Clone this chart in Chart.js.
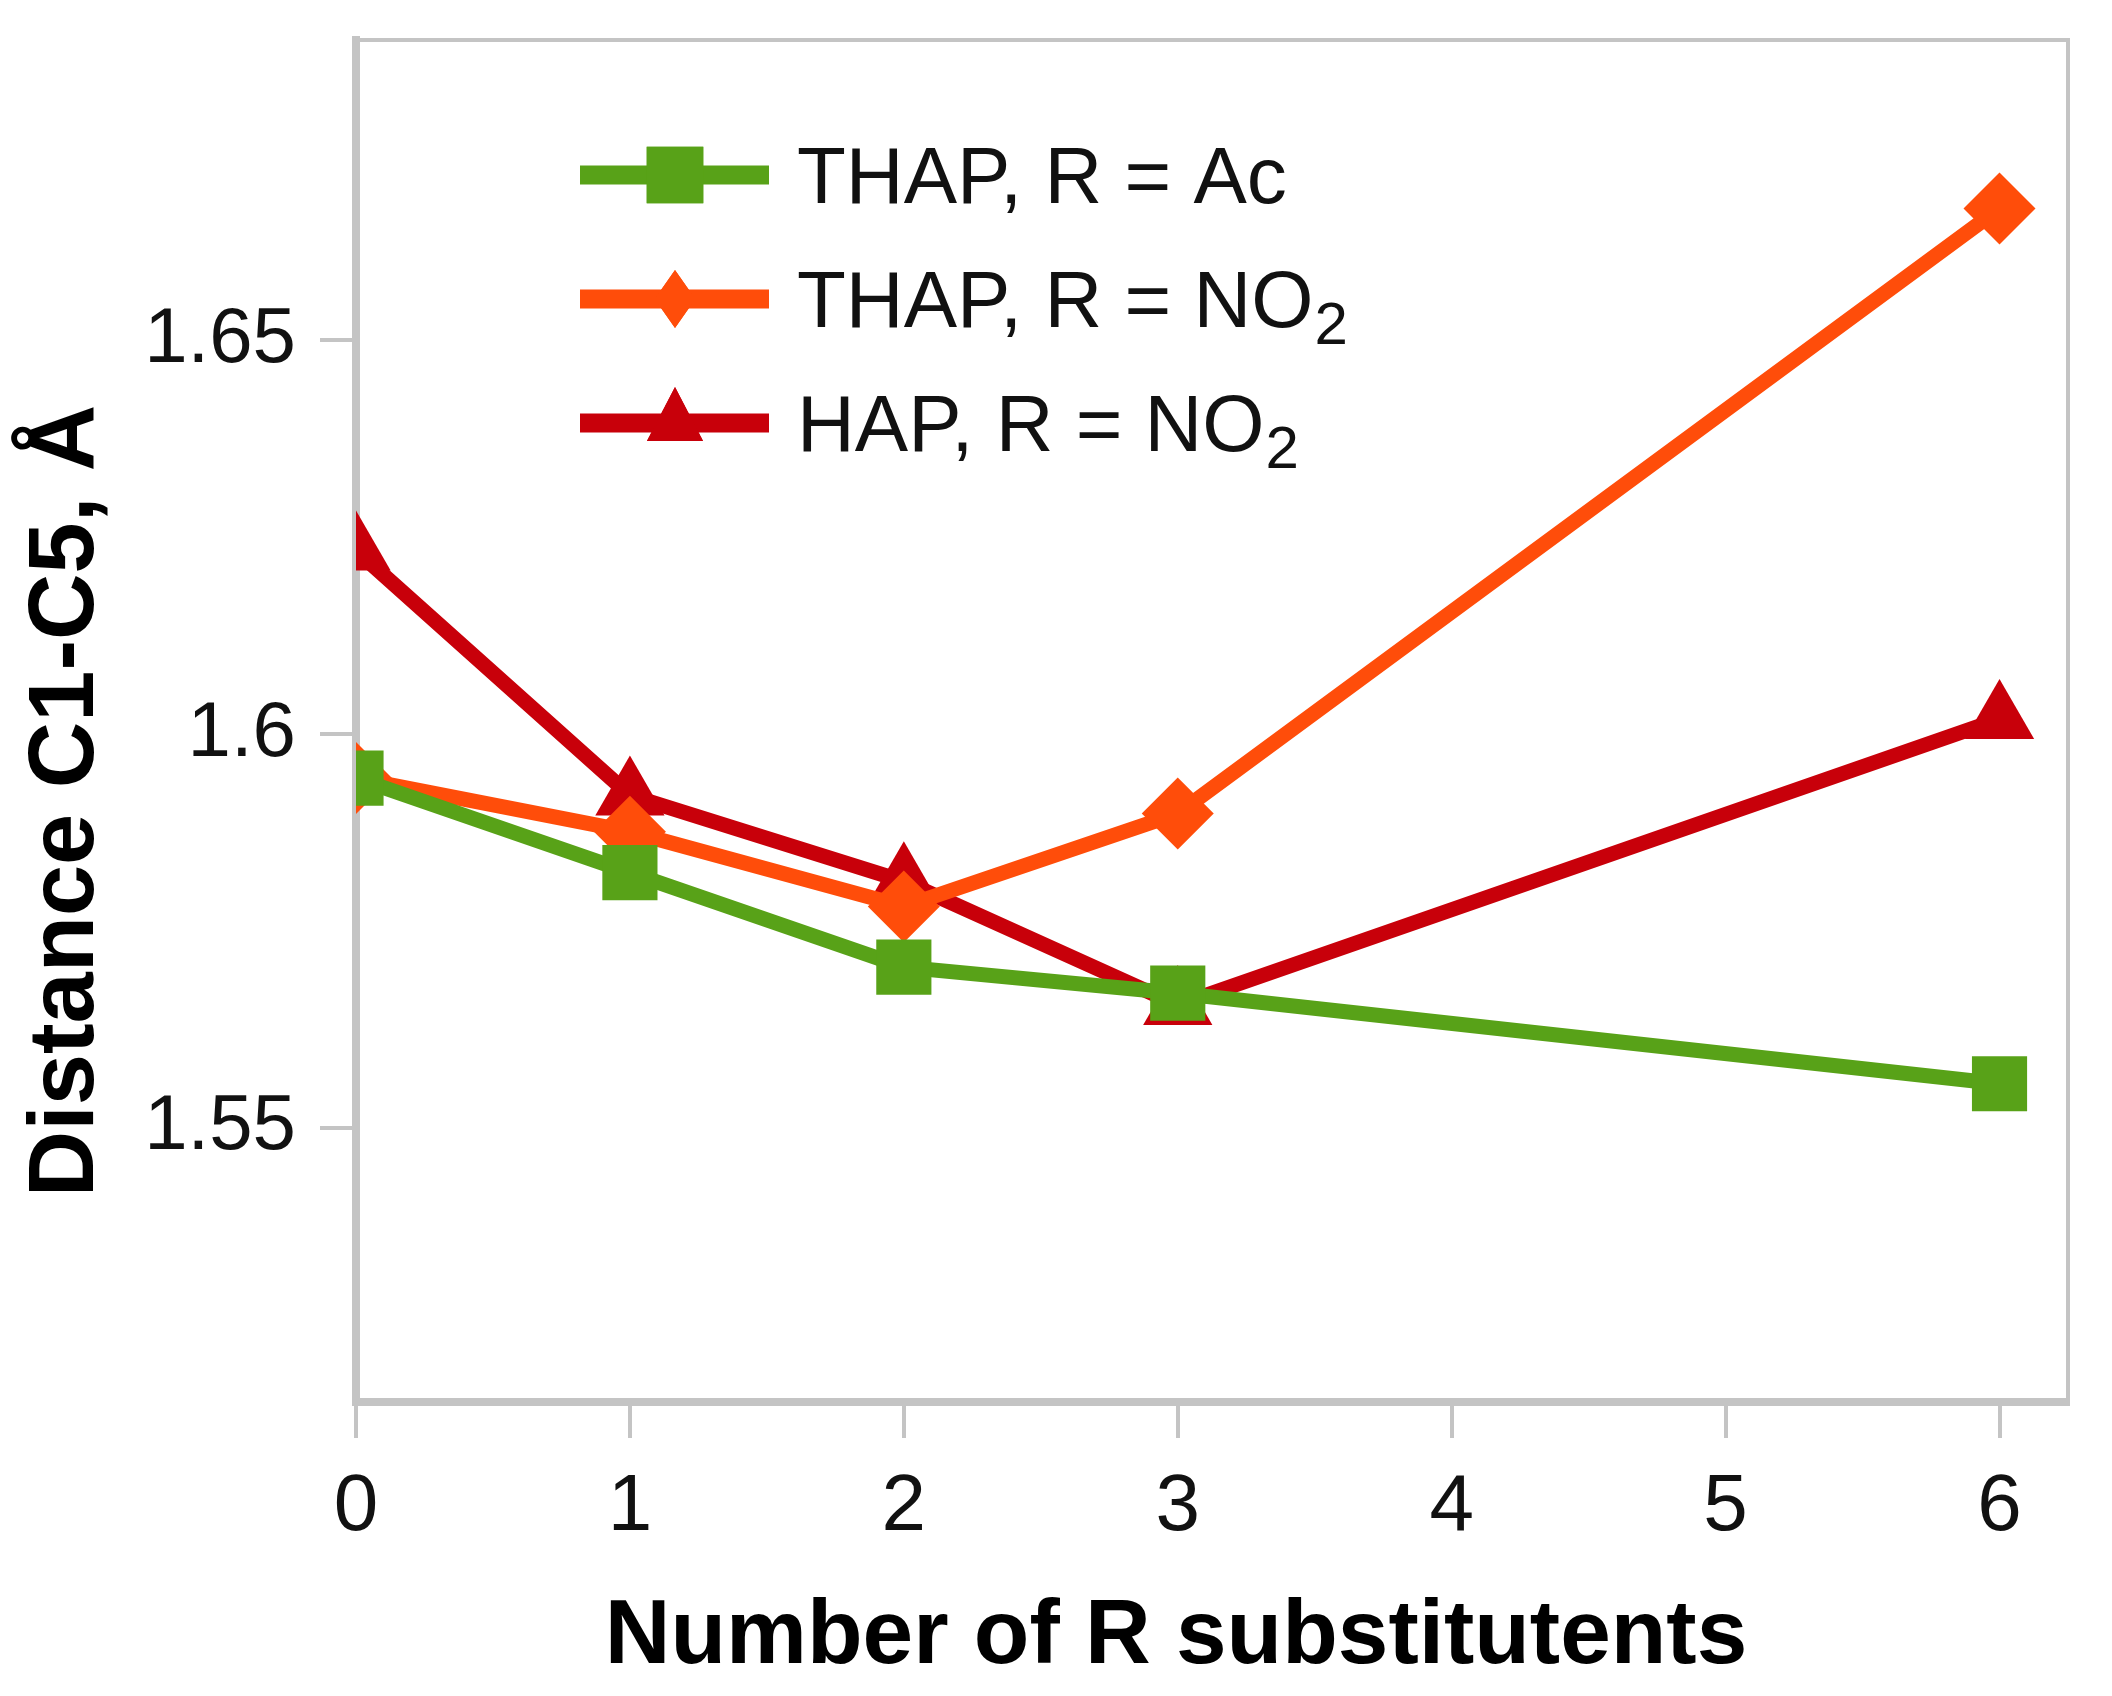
<!DOCTYPE html>
<html>
<head>
<meta charset="utf-8">
<title>Distance C1-C5</title>
<script src="https://cdn.jsdelivr.net/npm/chart.js@4.4.1/dist/chart.umd.min.js"></script>
<style>
  html, body { margin: 0; padding: 0; background: #fff; }
  #mycanvas { display: block; }
</style>
</head>
<body>
<canvas id="mycanvas" width="2112" height="1696"></canvas>
<script>
// data
var substituents = [0, 1, 2, 3, 6];
var thapAc = [1.5944, 1.5824, 1.5704, 1.5671, 1.5556];
var thapNO2 = [1.5944, 1.5876, 1.5781, 1.5899, 1.6667];
var hapNO2 = [1.6233, 1.5922, 1.5813, 1.5656, 1.6019];
var seriesNames = ['THAP, R = Ac', 'THAP, R = NO\u2082', 'HAP, R = NO\u2082'];
var xTicks = [0, 1, 2, 3, 4, 5, 6];
var yTicks = [1.55, 1.6, 1.65];
var xTitle = 'Number of R substitutents';
var yTitle = 'Distance C1-C5, \u00c5';

var axisGrey = '#c4c4c4';
var fontFamily = '"Liberation Sans", Arial, sans-serif';

function toPoints(xs, ys) {
	var pts = [];
	for (var i in xs) {
		pts.push({x: xs[i], y: ys[i]});
	}
	return pts;
}

// thin frame on top/right of the plot
var framePlugin = {
	id: 'frame',
	beforeDatasetsDraw: function(chart) {
		var a = chart.chartArea;
		var ctx = chart.ctx;
		ctx.save();
		ctx.strokeStyle = axisGrey;
		ctx.lineWidth = 4;
		ctx.beginPath();
		ctx.moveTo(a.left, a.top);
		ctx.lineTo(a.right, a.top);
		ctx.lineTo(a.right, a.bottom);
		ctx.stroke();
		ctx.restore();
	}
};

// axis titles, placed a bit off-centre like the original figure
var titlesPlugin = {
	id: 'axisTitles',
	afterDraw: function(chart) {
		var a = chart.chartArea;
		var ctx = chart.ctx;
		ctx.save();
		ctx.fillStyle = '#000';
		ctx.font = 'bold 91px ' + fontFamily;
		ctx.textAlign = 'center';
		ctx.textBaseline = 'middle';
		ctx.fillText(xTitle, (a.left + a.right) / 2 - 36, a.bottom + 236);
		ctx.translate(68, (a.top + a.bottom) / 2 + 80);
		ctx.rotate(-Math.PI / 2);
		ctx.font = 'bold 92px ' + fontFamily;
		ctx.fillText(yTitle, 0, 0);
		ctx.restore();
	}
};

var legendPlugin = {
	id: 'insideLegend',
	afterDatasetsDraw: function(chart) {
		var a = chart.chartArea;
		var ctx = chart.ctx;
		var x0 = a.left + 224, y0 = a.top + 135, rowH = 124;
		chart.data.datasets.forEach(function(ds, i) {
			var y = y0 + i * rowH;
			ctx.save();
			ctx.strokeStyle = ds.borderColor;
			ctx.lineWidth = 19;
			ctx.beginPath();
			ctx.moveTo(x0, y);
			ctx.lineTo(x0 + 189, y);
			ctx.stroke();
			ctx.fillStyle = ds.backgroundColor;
			ctx.save();
			ctx.translate(x0 + 95, y);
			ctx.scale(ds.legendSquash, 1);
			Chart.helpers.drawPoint(ctx, {
				pointStyle: ds.pointStyle,
				radius: ds.legendRadius,
				rotation: 0,
				borderWidth: 0
			}, 0, 0);
			ctx.fill();
			ctx.restore();
			// label, with subscript digits drawn smaller and lower
			var tx = x0 + 217;
			var base = y + 28;
			ctx.fillStyle = '#111';
			ctx.textBaseline = 'alphabetic';
			ctx.textAlign = 'left';
			var parts = ds.label.split('\u2082');
			for (var p = 0; p < parts.length; p++) {
				ctx.font = '80px ' + fontFamily;
				ctx.fillText(parts[p], tx, base);
				tx += ctx.measureText(parts[p]).width;
				if (p < parts.length - 1) {
					ctx.font = '60px ' + fontFamily;
					ctx.fillText('2', tx + 1, base + 17);
					tx += ctx.measureText('2').width;
				}
			}
			ctx.restore();
		});
	}
};

var chartdata = {
	datasets: [
		{
			label: seriesNames[0],
			data: toPoints(substituents, thapAc),
			borderColor: '#58a218',
			backgroundColor: '#58a218',
			pointStyle: 'rect',
			pointRadius: 39,
			legendRadius: 40,
			legendSquash: 1,
			pointBorderWidth: 0,
			borderWidth: 15
		},
		{
			label: seriesNames[1],
			data: toPoints(substituents, thapNO2),
			borderColor: '#ff4d0a',
			backgroundColor: '#ff4d0a',
			pointStyle: 'rectRot',
			pointRadius: 36,
			legendRadius: 29,
			legendSquash: 0.7,
			pointBorderWidth: 0,
			borderWidth: 15
		},
		{
			label: seriesNames[2],
			data: toPoints(substituents, hapNO2),
			borderColor: '#c8000a',
			backgroundColor: '#c8000a',
			pointStyle: 'triangle',
			pointRadius: 40,
			legendRadius: 36,
			legendSquash: 0.9,
			pointBorderWidth: 0,
			borderWidth: 15
		}
	]
};

var ctx = document.getElementById('mycanvas');

var lineGraph = new Chart(ctx, {
	type: 'line',
	data: chartdata,
	plugins: [framePlugin, legendPlugin, titlesPlugin],
	options: {
		responsive: false,
		devicePixelRatio: 1,
		animation: false,
		layout: { padding: { top: 36, right: 44, left: 0, bottom: 0 } },
		plugins: {
			legend: { display: false },
			tooltip: { enabled: false }
		},
		scales: {
			x: {
				type: 'linear',
				min: 0,
				max: 6.25,
				afterBuildTicks: function(scale) {
					scale.ticks = xTicks.map(function(v) { return {value: v}; });
				},
				afterFit: function(scale) {
					scale.height = 294;
					scale.paddingLeft = 0;
					scale.paddingRight = 0;
				},
				border: { color: axisGrey, width: 8 },
				grid: { drawOnChartArea: false, drawTicks: true, tickLength: 36, color: axisGrey, lineWidth: 4 },
				ticks: { color: '#111', padding: 22, font: { family: fontFamily, size: 80 } }
			},
			y: {
				min: 1.5152,
				max: 1.6881,
				afterBuildTicks: function(scale) {
					scale.ticks = yTicks.map(function(v) { return {value: v}; });
				},
				afterFit: function(scale) {
					scale.width = 356;
					scale.paddingTop = 0;
					scale.paddingBottom = 0;
				},
				border: { color: axisGrey, width: 8 },
				grid: { drawOnChartArea: false, drawTicks: true, tickLength: 36, color: axisGrey, lineWidth: 4 },
				ticks: {
					color: '#111',
					padding: 24,
					font: { family: fontFamily, size: 78 },
					callback: function(value) { return String(value); }
				}
			}
		}
	}
});
</script>
</body>
</html>
